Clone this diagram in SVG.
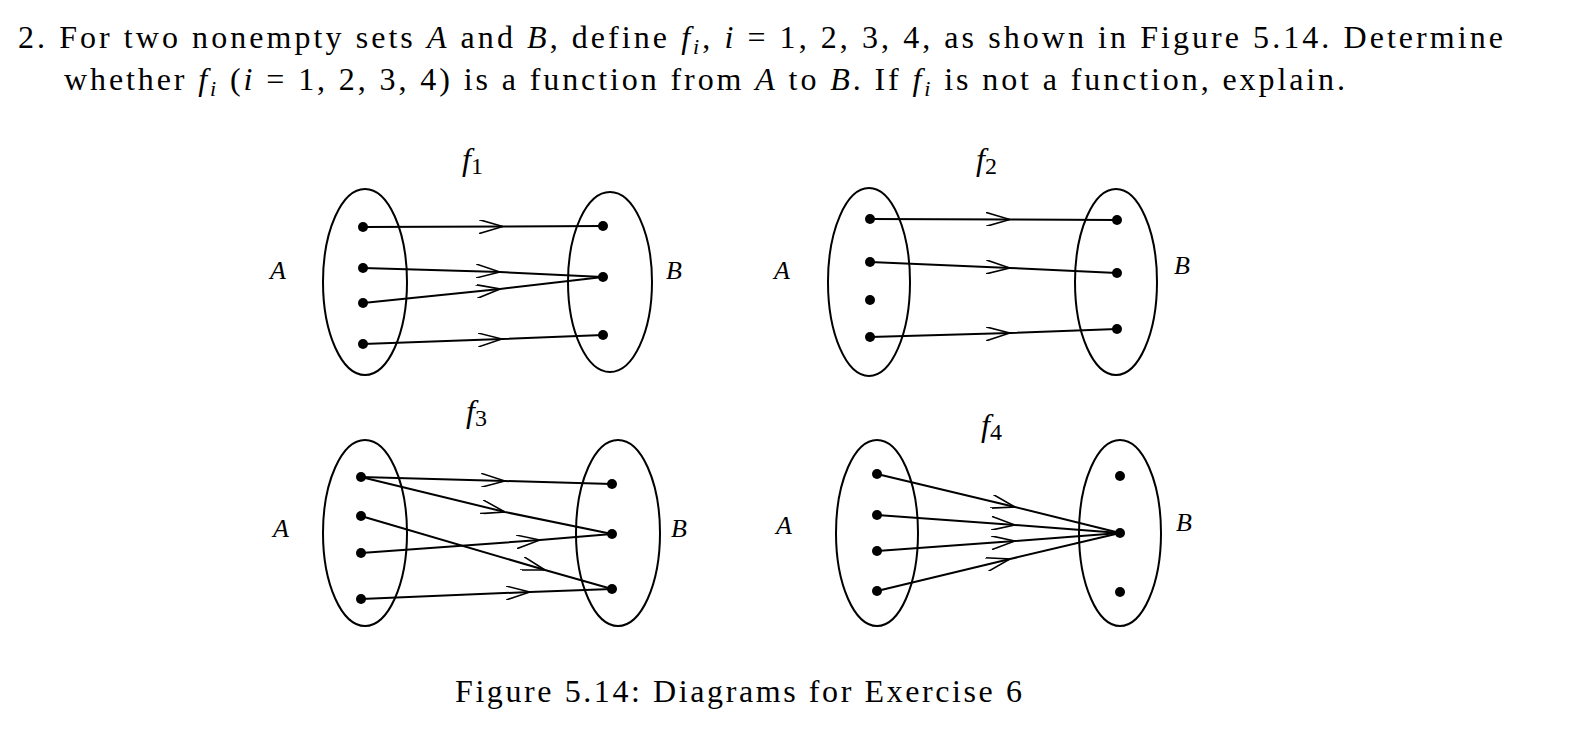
<svg xmlns="http://www.w3.org/2000/svg" width="1578" height="747" viewBox="0 0 1578 747">
<style>
text{font-family:"Liberation Serif","DejaVu Serif",serif;fill:#000}
.t{font-size:32px}.lbl{font-size:26px;font-style:italic}.f{font-size:32px;font-style:italic}
.i{font-style:italic}
ellipse{fill:none;stroke:#000;stroke-width:2}
.e path{fill:none;stroke:#000;stroke-width:2;marker-mid:url(#ch)}
circle{fill:#000}
</style>
<defs><marker id="ch" viewBox="0 0 24 14" refX="24" refY="7" markerWidth="24" markerHeight="14" markerUnits="userSpaceOnUse" orient="auto"><path d="M0,0 L24,7 L0,14" fill="none" stroke="#000" stroke-width="1.6"/></marker></defs>
<rect width="1578" height="747" fill="#fff"/>
<text class="t" x="18" y="48" textLength="1485" lengthAdjust="spacing">2. For two nonempty sets <tspan class="i">A</tspan> and <tspan class="i">B</tspan>, define <tspan class="i">f</tspan><tspan class="i" font-size="22" dy="6">i</tspan><tspan dy="-6">, </tspan><tspan class="i">i</tspan> = 1, 2, 3, 4, as shown in Figure 5.14. Determine</text>
<text class="t" x="64" y="90" textLength="1281" lengthAdjust="spacing">whether <tspan class="i">f</tspan><tspan class="i" font-size="22" dy="6">i</tspan><tspan dy="-6"> (</tspan><tspan class="i">i</tspan> = 1, 2, 3, 4) is a function from <tspan class="i">A</tspan> to <tspan class="i">B</tspan>. If <tspan class="i">f</tspan><tspan class="i" font-size="22" dy="6">i</tspan><tspan dy="-6"> is not a function, explain.</tspan></text>
<g id="f1">
<text class="f" x="462" y="170">f<tspan font-style="normal" font-size="24" dy="4">1</tspan></text>
<ellipse cx="365" cy="282" rx="42" ry="93"/><ellipse cx="610" cy="282" rx="42" ry="90"/>
<text class="lbl" x="270" y="279">A</text><text class="lbl" x="666" y="279">B</text>
<circle cx="363" cy="227" r="5"/><circle cx="363" cy="268" r="5"/><circle cx="363" cy="303" r="5"/><circle cx="363" cy="344" r="5"/>
<circle cx="603" cy="226" r="5"/><circle cx="603" cy="277" r="5"/><circle cx="603" cy="335" r="5"/>
</g>
<g id="f2">
<text class="f" x="976" y="170">f<tspan font-style="normal" font-size="24" dy="4">2</tspan></text>
<ellipse cx="869" cy="282" rx="41" ry="94"/><ellipse cx="1116" cy="282" rx="41" ry="93"/>
<text class="lbl" x="774" y="279">A</text><text class="lbl" x="1174" y="274">B</text>
<circle cx="870" cy="219" r="5"/><circle cx="870" cy="262" r="5"/><circle cx="870" cy="300" r="5"/><circle cx="870" cy="337" r="5"/>
<circle cx="1117" cy="220" r="5"/><circle cx="1117" cy="273" r="5"/><circle cx="1117" cy="329" r="5"/>
</g>
<g id="f3">
<text class="f" x="466" y="422">f<tspan font-style="normal" font-size="24" dy="4">3</tspan></text>
<ellipse cx="365" cy="533" rx="42" ry="93"/><ellipse cx="618" cy="533" rx="42" ry="93"/>
<text class="lbl" x="273" y="537">A</text><text class="lbl" x="671" y="537">B</text>
<circle cx="361" cy="477" r="5"/><circle cx="361" cy="516" r="5"/><circle cx="361" cy="553" r="5"/><circle cx="361" cy="599" r="5"/>
<circle cx="612" cy="484" r="5"/><circle cx="612" cy="534" r="5"/><circle cx="612" cy="589" r="5"/>
</g>
<g id="f4">
<text class="f" x="981" y="436">f<tspan font-style="normal" font-size="24" dy="4">4</tspan></text>
<ellipse cx="877" cy="533" rx="41" ry="93"/><ellipse cx="1120" cy="533" rx="41" ry="93"/>
<text class="lbl" x="776" y="534">A</text><text class="lbl" x="1176" y="531">B</text>
<circle cx="877" cy="474" r="5"/><circle cx="877" cy="515" r="5"/><circle cx="877" cy="551" r="5"/><circle cx="877" cy="591" r="5"/>
<circle cx="1120" cy="476" r="5"/><circle cx="1120" cy="533" r="5"/><circle cx="1120" cy="592" r="5"/>
</g>
<g id="connectors" class="e">
<path d="M363,227 L503,226.5 L603,226"/>
<path d="M363,268 L500,272 L603,277"/>
<path d="M363,303 L500,289 L603,277"/>
<path d="M363,344 L502,339 L603,335"/>
<path d="M870,219 L1010,219.5 L1117,220"/>
<path d="M870,262 L1010,268 L1117,273"/>
<path d="M870,337 L1010,333 L1117,329"/>
<path d="M361,477 L505,481 L612,484"/>
<path d="M361,477 L505,512 L612,534"/>
<path d="M361,516 L545,570 L612,589"/>
<path d="M361,553 L540,540 L612,534"/>
<path d="M361,599 L530,592 L612,589"/>
<path d="M877,474 L1015,507 L1120,533"/>
<path d="M877,515 L1015,525 L1120,533"/>
<path d="M877,551 L1015,541 L1120,533"/>
<path d="M877,591 L1010,559 L1120,533"/>
</g>
<text class="t" x="455" y="702" textLength="567" lengthAdjust="spacing">Figure 5.14: Diagrams for Exercise 6</text>
</svg>
